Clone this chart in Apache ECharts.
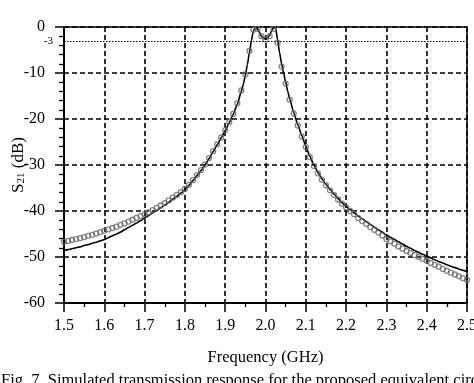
<!DOCTYPE html>
<html><head><meta charset="utf-8">
<script src="https://cdn.jsdelivr.net/npm/echarts@6/dist/echarts.min.js"></script>
<style>html,body{margin:0;padding:0;background:#fff}#c{width:474px;height:383px}</style>
</head><body><div id="c"></div>
<script>
// Model (solid line): frequency (GHz) and S21 (dB)
const modelFreq = [1.50,1.51,1.52,1.53,1.54,1.55,1.56,1.57,1.58,1.59,1.60,1.61,1.62,1.63,1.64,1.65,1.66,1.67,1.68,1.69,1.70,1.71,1.72,1.73,1.74,1.75,1.76,1.77,1.78,1.79,1.80,1.81,1.82,1.83,1.84,1.85,1.86,1.87,1.88,1.89,1.90,1.91,1.92,1.93,1.94,1.945,1.95,1.955,1.96,1.965,1.97,1.975,1.98,1.985,1.99,1.995,2.00,2.005,2.01,2.015,2.02,2.025,2.03,2.035,2.04,2.045,2.05,2.055,2.06,2.07,2.08,2.09,2.10,2.11,2.12,2.13,2.14,2.15,2.16,2.17,2.18,2.19,2.20,2.21,2.22,2.23,2.24,2.25,2.26,2.27,2.28,2.29,2.30,2.31,2.32,2.33,2.34,2.35,2.36,2.37,2.38,2.39,2.40,2.41,2.42,2.43,2.44,2.45,2.46,2.47,2.48,2.49,2.50];
const modelS21 = [-48.6,-48.4,-48.2,-48.0,-47.8,-47.5,-47.3,-47.0,-46.8,-46.5,-46.2,-45.8,-45.4,-45.0,-44.6,-44.1,-43.6,-43.1,-42.6,-42.1,-41.5,-41.0,-40.4,-39.9,-39.3,-38.7,-38.1,-37.4,-36.8,-36.1,-35.4,-34.4,-33.4,-32.3,-31.2,-30.0,-28.6,-27.1,-25.6,-24.1,-22.5,-20.8,-19.0,-16.8,-14.0,-12.4,-10.5,-8.2,-5.6,-3.0,-0.8,-0.1,-0.4,-1.2,-2.0,-2.5,-2.6,-2.4,-1.8,-0.9,-0.1,-0.2,-2.8,-5.6,-8.0,-10.0,-12.0,-13.9,-15.6,-18.6,-21.2,-23.6,-25.9,-28.1,-30.0,-31.6,-33.0,-34.2,-35.3,-36.3,-37.3,-38.2,-39.0,-39.7,-40.4,-41.1,-41.7,-42.3,-42.9,-43.5,-44.1,-44.6,-45.2,-45.7,-46.2,-46.7,-47.2,-47.7,-48.1,-48.6,-49.0,-49.4,-49.8,-50.2,-50.6,-51.0,-51.3,-51.7,-52.0,-52.3,-52.6,-52.9,-53.2];
// Simulation (circles)
const simFreq = [1.50,1.51,1.52,1.53,1.54,1.55,1.56,1.57,1.58,1.59,1.60,1.61,1.62,1.63,1.64,1.65,1.66,1.67,1.68,1.69,1.70,1.71,1.72,1.73,1.74,1.75,1.76,1.77,1.78,1.79,1.80,1.81,1.82,1.83,1.84,1.85,1.86,1.87,1.88,1.89,1.90,1.91,1.92,1.93,1.94,1.95,1.96,1.97,1.98,1.99,2.00,2.01,2.02,2.03,2.04,2.05,2.06,2.07,2.08,2.09,2.10,2.11,2.12,2.13,2.14,2.15,2.16,2.17,2.18,2.19,2.20,2.21,2.22,2.23,2.24,2.25,2.26,2.27,2.28,2.29,2.30,2.31,2.32,2.33,2.34,2.35,2.36,2.37,2.38,2.39,2.40,2.41,2.42,2.43,2.44,2.45,2.46,2.47,2.48,2.49,2.50];
const simS21 = [-46.7,-46.5,-46.3,-46.1,-45.9,-45.7,-45.4,-45.2,-44.9,-44.6,-44.3,-44.0,-43.7,-43.4,-43.0,-42.7,-42.3,-41.9,-41.5,-41.1,-40.7,-40.3,-39.8,-39.3,-38.8,-38.3,-37.7,-37.1,-36.5,-35.9,-35.2,-34.3,-33.3,-32.2,-31.1,-29.9,-28.5,-27.0,-25.5,-24.0,-22.4,-20.7,-18.9,-16.6,-13.8,-10.3,-5.2,-0.6,-0.4,-2.0,-2.7,-2.0,-0.4,-3.4,-8.6,-12.3,-15.8,-18.8,-21.4,-23.8,-26.1,-28.3,-30.2,-31.8,-33.2,-34.4,-35.5,-36.5,-37.5,-38.4,-39.2,-40.0,-40.7,-41.5,-42.2,-42.8,-43.5,-44.1,-44.7,-45.3,-46.1,-46.6,-47.1,-47.7,-48.2,-48.7,-49.1,-49.6,-50.0,-50.4,-50.8,-51.3,-51.7,-52.1,-52.6,-53.0,-53.4,-53.8,-54.2,-54.6,-55.0];
const refLevel = -3;
const xLabelName = 'Frequency (GHz)';
const caption = 'Fig. 7. Simulated transmission response for the proposed equivalent circuit model';

const FONT = 'Liberation Serif';
const chart = echarts.init(document.getElementById('c'), null, {renderer: 'canvas'});
chart.setOption({
  animation: false,
  backgroundColor: '#fff',
  textStyle: {fontFamily: FONT, color: '#000'},
  grid: {left: 64, right: 7, top: 27, bottom: 80, containLabel: false, outerBoundsMode: 'none', show: true, borderColor: '#000', borderWidth: 1.5, backgroundColor: 'transparent'},
  xAxis: {
    type: 'value', min: 1.5, max: 2.5, interval: 0.1,
    name: xLabelName, nameLocation: 'middle', nameGap: 46, nameMoveOverlap: false,
    nameTextStyle: {fontFamily: FONT, fontSize: 16.5, color: '#000'},
    axisLine: {onZero: false, lineStyle: {color: '#000', width: 2}},
    axisTick: {show: true, inside: false, length: 9, lineStyle: {color: '#000', width: 1.5}},
    minorTick: {show: true, splitNumber: 2, length: 4, lineStyle: {color: '#000', width: 1.3}},
    axisLabel: {margin: 15, fontFamily: FONT, fontSize: 16, color: '#000', hideOverlap: false, formatter: v => v.toFixed(1)},
    splitLine: {show: true, lineStyle: {color: '#000', type: [5, 3], width: 1.6}}
  },
  yAxis: {
    type: 'value', min: -60, max: 0, interval: 10,
    name: '{s|S}{sub|21}{s| (dB)}', nameLocation: 'middle', nameGap: 37, nameRotate: 90, nameMoveOverlap: false,
    nameTextStyle: {fontFamily: FONT, color: '#000', rich: {s: {fontFamily: FONT, fontSize: 17, color: '#000'}, sub: {fontFamily: FONT, fontSize: 11, color: '#000', verticalAlign: 'bottom', padding: [6, 0, 0, 0]}}},
    axisLine: {onZero: false, lineStyle: {color: '#000', width: 2}},
    axisTick: {show: true, inside: false, length: 9, lineStyle: {color: '#000', width: 1.5}},
    minorTick: {show: true, splitNumber: 5, length: 5, lineStyle: {color: '#000', width: 1.3}},
    axisLabel: {margin: 19, fontFamily: FONT, fontSize: 16, color: '#000'},
    splitLine: {show: true, lineStyle: {color: '#000', type: [5, 3], width: 1.6}}
  },
  graphic: [{type: 'text', left: 1, top: 372, style: {text: caption, font: '16.5px "Liberation Serif"', fill: '#000'}}],
  series: [
    {
      type: 'line', data: modelFreq.map((f, i) => [f, modelS21[i]]),
      showSymbol: false, smooth: 0.2, smoothMonotone: 'x',
      lineStyle: {color: '#000', width: 1.6}, z: 3,
      markLine: {
        silent: true, symbol: 'none',
        lineStyle: {color: '#000', type: [1.5, 1.5], width: 1},
        label: {show: true, position: 'start', formatter: String(refLevel), fontFamily: FONT, fontSize: 11, color: '#000', distance: 11},
        data: [{yAxis: refLevel}]
      }
    },
    {
      type: 'scatter', data: simFreq.map((f, i) => [f, simS21[i]]),
      symbol: 'circle', symbolSize: 5,
      itemStyle: {color: 'rgba(255,255,255,0)', borderColor: '#666', borderWidth: 1.3}, z: 4
    }
  ]
});
</script></body></html>
